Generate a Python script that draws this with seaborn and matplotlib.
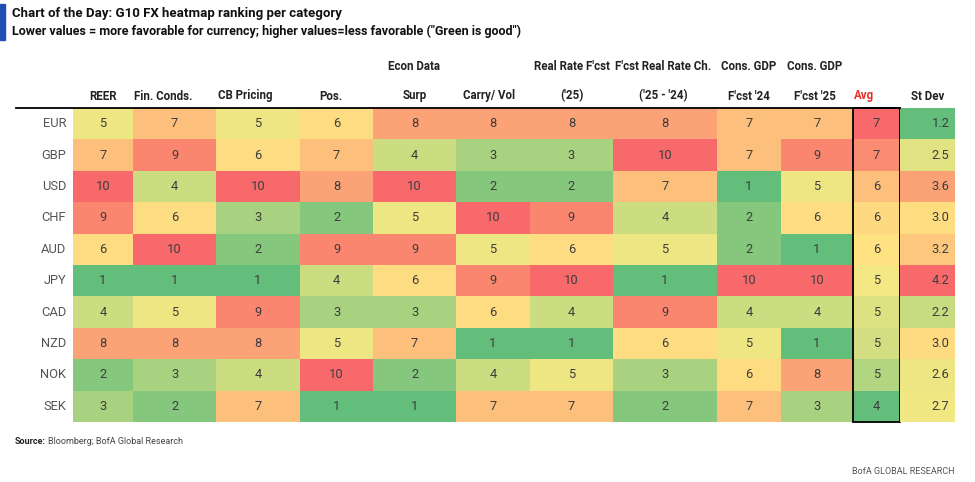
import matplotlib
matplotlib.use("Agg")
import matplotlib.pyplot as plt
from matplotlib.colors import LinearSegmentedColormap, TwoSlopeNorm
from matplotlib.patches import Rectangle
from matplotlib.lines import Line2D
import seaborn as sns
import pandas as pd
import numpy as np

# ranking data (1 = most favorable)
currencies = ["EUR", "GBP", "USD", "CHF", "AUD", "JPY", "CAD", "NZD", "NOK", "SEK"]
reer = [5, 7, 10, 9, 6, 1, 4, 8, 2, 3]
fin_conds = [7, 9, 4, 6, 10, 1, 5, 8, 3, 2]
cb_pricing = [5, 6, 10, 3, 2, 1, 9, 8, 4, 7]
pos = [6, 7, 8, 2, 9, 4, 3, 5, 10, 1]
econ_surp = [8, 4, 10, 5, 9, 6, 3, 7, 2, 1]
carry_vol = [8, 3, 2, 10, 5, 9, 6, 1, 4, 7]
real_rate_25 = [8, 3, 2, 9, 6, 10, 4, 1, 5, 7]
real_rate_ch = [8, 10, 7, 4, 5, 1, 9, 6, 3, 2]
gdp_24 = [7, 7, 1, 2, 2, 10, 4, 5, 6, 7]
gdp_25 = [7, 9, 5, 6, 1, 10, 4, 1, 8, 3]

header_top = ["", "", "", "", "Econ Data", "", "Real Rate F'cst", "F'cst Real Rate Ch.",
              "Cons. GDP", "Cons. GDP", "", ""]
header_bottom = ["REER", "Fin. Conds.", "CB Pricing", "Pos.", "Surp", "Carry/ Vol", "('25)",
                 "('25 - '24)", "F'cst '24", "F'cst '25", "Avg", "St Dev"]

df = pd.DataFrame({
    "REER": reer, "Fin": fin_conds, "CB": cb_pricing, "Pos": pos, "Econ": econ_surp,
    "Carry": carry_vol, "RR25": real_rate_25, "RRCh": real_rate_ch,
    "GDP24": gdp_24, "GDP25": gdp_25,
}, index=currencies)
df["Avg"] = df.mean(axis=1)
df["StDev"] = df.iloc[:, :10].std(axis=1)

# column edges in pixels (cells are not equal width in the original)
edges = np.array([73, 133, 216, 300, 373, 456, 530, 613, 717, 781, 853, 900, 955])
head_dx = [0, -11, -13, -6, 0, -4, 0, -2, 0, -2, -12, 0]

W, H = 975, 482
cmap = LinearSegmentedColormap.from_list("excel3", ["#63BE7B", "#FFEB84", "#F8696B"])
txt = "#3d3d3d"

fig = plt.figure(figsize=(W / 100, H / 100), dpi=100)
plt.rcParams["font.family"] = ["Roboto", "DejaVu Sans"]
top, bot = 108, 422
gs = fig.add_gridspec(1, 12, left=edges[0] / W, right=edges[-1] / W,
                      top=1 - top / H, bottom=1 - bot / H, wspace=0,
                      width_ratios=np.diff(edges))

for j, col in enumerate(df.columns):
    ax = fig.add_subplot(gs[0, j])
    vals = df[[col]]
    norm = TwoSlopeNorm(vmin=vals[col].min(), vcenter=vals[col].median(), vmax=vals[col].max())
    if col == "Avg":
        labels = np.floor(vals.values + 0.5).astype(int).astype(str)
    else:
        labels = vals.values.astype(int).astype(str)
    sns.heatmap(vals, ax=ax, cmap=cmap, norm=norm, cbar=False,
                annot=labels if col != "StDev" else False, fmt="",
                annot_kws={"color": txt, "fontsize": 9.3},
                xticklabels=False, yticklabels=(j == 0))
    if col == "StDev":
        for i, v in enumerate(vals[col]):
            ax.text(0.9, i + 0.5, f"{v:.1f}", ha="right", va="center",
                    color=txt, fontsize=9.3)
    ax.set_xlabel("")
    ax.set_ylabel("")
    if j == 0:
        ax.tick_params(axis="y", length=0, pad=5, labelsize=9.3, labelcolor="#555555")
        plt.setp(ax.get_yticklabels(), rotation=0)
    else:
        ax.tick_params(axis="y", length=0)
    # headers
    tr = ax.get_xaxis_transform()
    ax.annotate(header_bottom[j], xy=(0.5, 1), xycoords=tr,
                xytext=(head_dx[j] * 0.72, 12 * 0.72), textcoords="offset points",
                ha="center", va="center", fontsize=8.3, fontweight="bold",
                color="#e8302a" if col == "Avg" else "#222222")
    if header_top[j]:
        ax.annotate(header_top[j], xy=(0.5, 1), xycoords=tr,
                    xytext=(head_dx[j] * 0.72, 41 * 0.72), textcoords="offset points",
                    ha="center", va="center", fontsize=8.3, fontweight="bold", color="#222222")
    if col == "Avg":
        ax.add_patch(Rectangle((0, 0), 1, len(currencies), fill=False, edgecolor="black",
                               lw=1.3, clip_on=False, zorder=5))

# line under the headers
fig.add_artist(Line2D([16 / W, 900 / W], [1 - top / H, 1 - top / H], color="black", lw=1.3))

# title block
fig.add_artist(Rectangle((0, 1 - 40 / H), 5 / W, 36 / H, color="#1f4fb5", transform=fig.transFigure))
fig.text(12 / W, 1 - 13 / H, "Chart of the Day: G10 FX heatmap ranking per category",
         fontsize=9.5, fontweight="bold", color="#111111", va="center")
fig.text(12 / W, 1 - 31 / H,
         'Lower values = more favorable for currency; higher values=less favorable ("Green is good")',
         fontsize=9, fontweight="bold", color="#111111", va="center")

src = fig.text(15 / W, 1 - 442 / H, "Source:", fontsize=6.5, fontweight="bold",
               color="#222222", va="center")
fig.canvas.draw()
bb = src.get_window_extent()
fig.text((bb.x1 + 2) / W, 1 - 442 / H, "Bloomberg; BofA Global Research", fontsize=6.5,
         color="#444444", va="center")
fig.text(955 / W, 1 - 471 / H, "BofA GLOBAL RESEARCH", fontsize=6.5, color="#555555",
         va="center", ha="right")

fig.savefig("out.png", dpi=100)
